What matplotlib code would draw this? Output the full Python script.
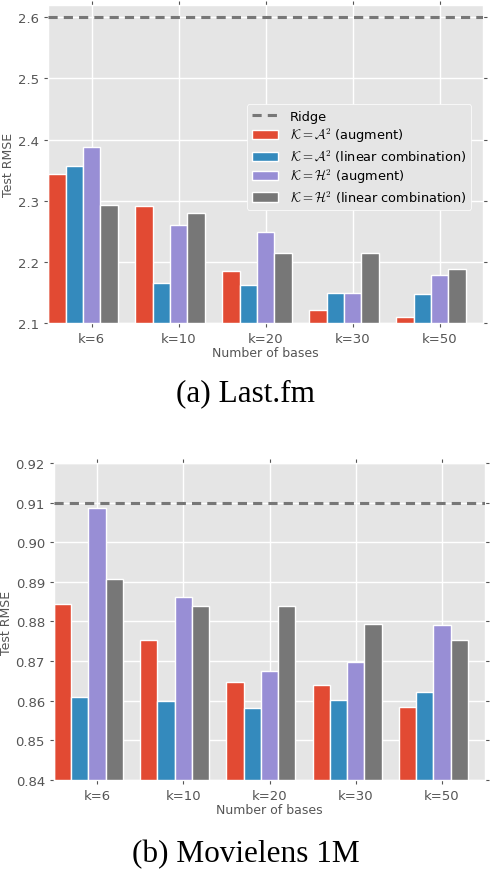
import matplotlib
matplotlib.use('Agg')
import matplotlib.pyplot as plt
import numpy as np

plt.style.use('ggplot')
plt.rcParams['mathtext.fontset'] = 'cm'

# ======= data
bases = ['k=6', 'k=10', 'k=20', 'k=30', 'k=50']
labels = [r'$\mathcal{K}=\mathcal{A}^2$ (augment)',
          r'$\mathcal{K}=\mathcal{A}^2$ (linear combination)',
          r'$\mathcal{K}=\mathcal{H}^2$ (augment)',
          r'$\mathcal{K}=\mathcal{H}^2$ (linear combination)']
colors = ['#E24A33', '#348ABD', '#988ED5', '#777777']

# Last.fm
lastfm_a2_aug = [2.343, 2.292, 2.185, 2.121, 2.110]
lastfm_a2_lin = [2.357, 2.166, 2.162, 2.149, 2.148]
lastfm_h2_aug = [2.387, 2.261, 2.249, 2.149, 2.179]
lastfm_h2_lin = [2.293, 2.280, 2.215, 2.215, 2.189]
lastfm_ridge = 2.6

# Movielens 1M
ml_a2_aug = [0.8844, 0.8753, 0.8647, 0.8639, 0.8584]
ml_a2_lin = [0.8609, 0.8599, 0.8581, 0.8601, 0.8622]
ml_h2_aug = [0.9087, 0.8862, 0.8675, 0.8698, 0.8791]
ml_h2_lin = [0.8908, 0.8839, 0.8839, 0.8794, 0.8753]
ml_ridge = 0.91


def draw(ax, series, ridge, ylim, yticks, legend=False):
    x = np.arange(len(bases))
    w = 0.2
    ax.axhline(ridge, color='#777777', ls='--', lw=2.2, dashes=(3, 2), label='Ridge', zorder=3)
    for i, vals in enumerate(series):
        ax.bar(x + (i - 2) * w, vals, w, color=colors[i], edgecolor='white',
               linewidth=1, label=labels[i], zorder=2)
    ax.set_xlim(-0.5, 4.5)
    ax.set_ylim(*ylim)
    ax.set_yticks(yticks)
    ax.set_xticks(x)
    ax.set_xticklabels(bases)
    ax.set_xlabel('Number of bases', fontsize=9, color='#555555', labelpad=1)
    ax.set_ylabel('Test RMSE', fontsize=9, color='#555555', labelpad=2)
    ax.tick_params(axis='both', which='both', direction='out', labelsize=9.5,
                   top=True, right=True, colors='#555555', length=3)
    ax.grid(True, color='white', lw=1)
    ax.set_axisbelow(True)
    if legend:
        ax.legend(loc='lower right', bbox_to_anchor=(0.988, 0.336), fontsize=9.3,
                  facecolor='#E5E5E5', edgecolor='white', framealpha=1,
                  handlelength=2.0, borderpad=0.4, labelspacing=0.25,
                  handletextpad=0.9)


fig = plt.figure(figsize=(4.91, 8.70), dpi=100)
fig.patch.set_facecolor('white')

ax1 = fig.add_axes([0.098, 0.6276, 0.886, 0.3655])
draw(ax1, [lastfm_a2_aug, lastfm_a2_lin, lastfm_h2_aug, lastfm_h2_lin],
     lastfm_ridge, (2.1, 2.62), [2.1, 2.2, 2.3, 2.4, 2.5, 2.6], legend=True)
ax1.set_yticklabels(['2.1', '2.2', '2.3', '2.4', '2.5', '2.6'])

ax2 = fig.add_axes([0.110, 0.1023, 0.878, 0.3644])
draw(ax2, [ml_a2_aug, ml_a2_lin, ml_h2_aug, ml_h2_lin],
     ml_ridge, (0.84, 0.92), [0.84, 0.85, 0.86, 0.87, 0.88, 0.89, 0.90, 0.91, 0.92])
ax2.set_yticklabels(['0.84', '0.85', '0.86', '0.87', '0.88', '0.89', '0.90', '0.91', '0.92'])

fig.text(0.5, 1 - 394 / 870, '(a) Last.fm', ha='center', va='center',
         family='Liberation Serif', fontsize=22.5)
fig.text(0.5, 1 - 855 / 870, '(b) Movielens 1M', ha='center', va='center',
         family='Liberation Serif', fontsize=22.5)

fig.savefig('out.png', dpi=100, facecolor='white')
